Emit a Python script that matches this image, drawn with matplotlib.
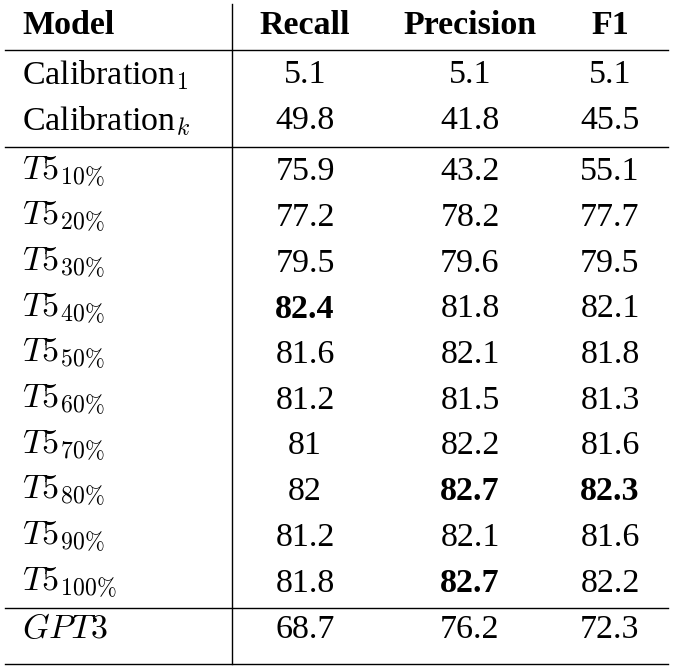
import matplotlib

matplotlib.use("Agg")
import matplotlib.pyplot as plt

HEADERS = ["Model", "Recall", "Precision", "F1"]
MODELS = [r"Calibration$_1$", r"Calibration$_k$",
          r"$T5_{10\%}$", r"$T5_{20\%}$", r"$T5_{30\%}$", r"$T5_{40\%}$",
          r"$T5_{50\%}$", r"$T5_{60\%}$", r"$T5_{70\%}$", r"$T5_{80\%}$",
          r"$T5_{90\%}$", r"$T5_{100\%}$", r"$GPT3$"]
RECALL = ["5.1", "49.8", "75.9", "77.2", "79.5", "82.4", "81.6", "81.2", "81", "82", "81.2", "81.8", "68.7"]
PRECISION = ["5.1", "41.8", "43.2", "78.2", "79.6", "81.8", "82.1", "81.5", "82.2", "82.7", "82.1", "82.7", "76.2"]
F1 = ["5.1", "45.5", "55.1", "77.7", "79.5", "82.1", "81.8", "81.3", "81.6", "82.3", "81.6", "82.2", "72.3"]
# (row, column) of bold cells
BOLD = {(5, 1), (9, 2), (11, 2), (9, 3)}

plt.rcParams["font.family"] = ["Liberation Serif", "DejaVu Serif"]
plt.rcParams["mathtext.fontset"] = "cm"

fig = plt.figure(figsize=(6.75, 6.72), dpi=100)
ax = fig.add_axes([0, 0, 1, 1])
ax.set_xlim(0, 675)
ax.set_ylim(672, 0)
ax.axis("off")

FS = 24.5
col_x = [22, 305, 470, 610]
ax.text(col_x[0], 26, HEADERS[0], fontsize=FS, fontweight="bold", ha="left", va="center")
for x, h in zip(col_x[1:], HEADERS[1:]):
    ax.text(x, 26, h, fontsize=FS, fontweight="bold", ha="center", va="center")

row_y = [75, 121] + [172 + i * 45.7 for i in range(10)] + [630]
for r, y in enumerate(row_y):
    ax.text(col_x[0], y, MODELS[r], fontsize=FS, ha="left", va="center")
    for c, vals in enumerate([RECALL, PRECISION, F1], start=1):
        ax.text(col_x[c], y, vals[r], fontsize=FS, ha="center", va="center",
                fontweight="bold" if (r, c) in BOLD else "normal")

for y in (50, 147, 608, 664):
    ax.plot([5, 668], [y, y], color="black", lw=1)
ax.plot([232, 232], [4, 664], color="black", lw=1)

fig.savefig("out.png", dpi=100)
